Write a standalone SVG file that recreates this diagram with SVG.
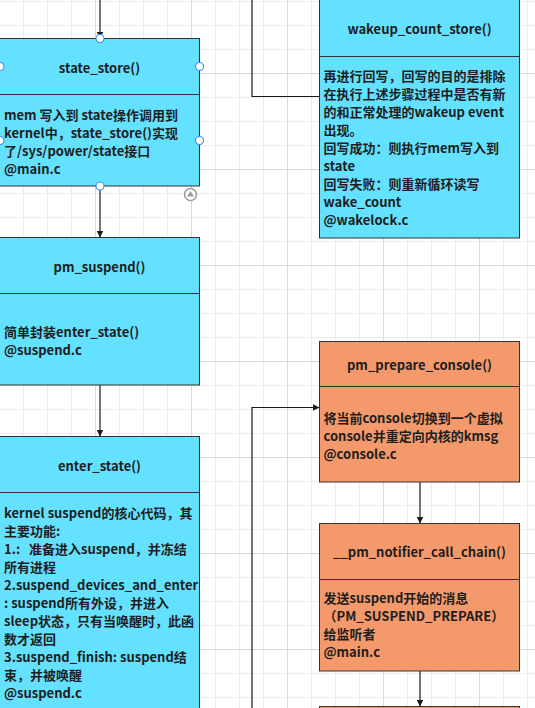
<svg xmlns="http://www.w3.org/2000/svg" width="535" height="708" viewBox="0 0 535 708">
<defs>
<pattern id="grid" patternUnits="userSpaceOnUse" x="-1" y="-23" width="96" height="96">
<rect x="0" y="0" width="96" height="96" fill="#ffffff"/>
<rect x="24" y="0" width="1" height="96" fill="#ececec"/>
<rect x="48" y="0" width="1" height="96" fill="#ececec"/>
<rect x="72" y="0" width="1" height="96" fill="#ececec"/>
<rect x="0" y="24" width="96" height="1" fill="#ececec"/>
<rect x="0" y="48" width="96" height="1" fill="#ececec"/>
<rect x="0" y="72" width="96" height="1" fill="#ececec"/>
<rect x="0" y="0" width="1" height="96" fill="#dadada"/>
<rect x="0" y="0" width="96" height="1" fill="#dadada"/>
</pattern>
<marker id="arr" markerUnits="userSpaceOnUse" markerWidth="8" markerHeight="8" refX="7" refY="3.5" orient="auto">
<path d="M0,0 L7,3.5 L0,7 z" fill="#1a1a1a"/>
</marker>
<style>
.box{stroke:#333333;stroke-width:1}
.cyan{fill:#64e1ff}
.orange{fill:#f4996c}
.div{stroke:#333333;stroke-width:1}
text{font-family:"Noto Sans CJK SC","Noto Sans",sans-serif;font-size:13px;font-weight:bold;fill:#1e1e1e}
.title{text-anchor:middle}
.conn{fill:none;stroke:#1a1a1a;stroke-width:1.2}
.handle{fill:#ffffff;stroke:#3d8ff0;stroke-width:1.2}
</style>
</defs>
<rect x="0" y="0" width="535" height="708" fill="url(#grid)"/>

<g id="connectors">
<path class="conn" d="M100,0 L100,38.5" marker-end="url(#arr)"/>
<path class="conn" d="M100,186 L100,237.5" marker-end="url(#arr)"/>
<path class="conn" d="M100,385 L100,436.5" marker-end="url(#arr)"/>
<path class="conn" d="M252,0 L252,96.5 L319.5,96.5"/>
<path class="conn" d="M252,708 L252,407.5 L319.5,407.5" marker-end="url(#arr)"/>
<path class="conn" d="M420,-10 L420,1.5" marker-end="url(#arr)"/>
<path class="conn" d="M420,482 L420,523.5" marker-end="url(#arr)"/>
<path class="conn" d="M420,671 L420,706.5" marker-end="url(#arr)"/>
</g>

<g id="state_store">
<rect class="box cyan" x="-0.5" y="38.5" width="200" height="147.5"/>
<line class="div" x1="-0.5" y1="94.5" x2="199.5" y2="94.5"/>
<text class="title" x="99.5" y="72.5">state_store()</text>
<text x="4" y="120">mem 写入到 state操作调用到</text>
<text x="4" y="138">kernel中，state_store()实现</text>
<text x="4" y="156">了/sys/power/state接口</text>
<text x="4" y="174">@main.c</text>
<circle class="handle" cx="100" cy="38.5" r="4"/>
<circle class="handle" cx="100" cy="186" r="4"/>
<circle class="handle" cx="0" cy="66.5" r="4"/>
<circle class="handle" cx="199.5" cy="66.5" r="4"/>
<circle class="handle" cx="0" cy="140.5" r="4"/>
<circle class="handle" cx="199.5" cy="140.5" r="4"/>
<circle cx="190.5" cy="194.5" r="6" fill="#ffffff" stroke="#9a9a9a" stroke-width="1.5"/>
<path d="M190.5,191 L187,196.5 L194,196.5 z" fill="#9a9a9a"/>
</g>

<g id="pm_suspend">
<rect class="box cyan" x="-0.5" y="237.5" width="200" height="147.5"/>
<line class="div" x1="-0.5" y1="293.5" x2="199.5" y2="293.5"/>
<text class="title" x="99.5" y="271.5">pm_suspend()</text>
<text x="4" y="336.5">简单封装enter_state()</text>
<text x="4" y="354.5">@suspend.c</text>
</g>

<g id="enter_state">
<rect class="box cyan" x="-0.5" y="436.5" width="200" height="300"/>
<line class="div" x1="-0.5" y1="492.5" x2="199.5" y2="492.5"/>
<text class="title" x="99.5" y="470.5">enter_state()</text>
<text x="4" y="518">kernel suspend的核心代码，其</text>
<text x="4" y="536">主要功能:</text>
<text x="4" y="554" style="white-space:pre">1.:   准备进入suspend，并冻结</text>
<text x="4" y="572">所有进程</text>
<text x="4" y="590">2.suspend_devices_and_enter</text>
<text x="4" y="608">: suspend所有外设，并进入</text>
<text x="4" y="626">sleep状态，只有当唤醒时，此函</text>
<text x="4" y="644">数才返回</text>
<text x="4" y="662">3.suspend_finish: suspend结</text>
<text x="4" y="680">束，并被唤醒</text>
<text x="4" y="698">@suspend.c</text>
</g>

<g id="wakeup_count_store">
<rect class="box cyan" x="319.5" y="-1" width="200" height="239"/>
<line class="div" x1="319.5" y1="56.5" x2="519.5" y2="56.5"/>
<text class="title" x="419.5" y="34">wakeup_count_store()</text>
<text x="323.5" y="81">再进行回写，回写的目的是排除</text>
<text x="323.5" y="99">在执行上述步骤过程中是否有新</text>
<text x="323.5" y="117">的和正常处理的wakeup event</text>
<text x="323.5" y="135">出现。</text>
<text x="323.5" y="153">回写成功：则执行mem写入到</text>
<text x="323.5" y="171">state</text>
<text x="323.5" y="189">回写失败：则重新循环读写</text>
<text x="323.5" y="207">wake_count</text>
<text x="323.5" y="225">@wakelock.c</text>
</g>

<g id="pm_prepare_console">
<rect class="box orange" x="319.5" y="341.5" width="200" height="140.5"/>
<line class="div" x1="319.5" y1="386.5" x2="519.5" y2="386.5"/>
<text class="title" x="419.5" y="370">pm_prepare_console()</text>
<text x="323.5" y="422.5">将当前console切换到一个虚拟</text>
<text x="323.5" y="440.5">console并重定向内核的kmsg</text>
<text x="323.5" y="458.5">@console.c</text>
</g>

<g id="pm_notifier_call_chain">
<rect class="box orange" x="319.5" y="523.5" width="200" height="147.5"/>
<line class="div" x1="319.5" y1="579.5" x2="519.5" y2="579.5"/>
<text class="title" x="419.5" y="557">__pm_notifier_call_chain()</text>
<text x="323.5" y="603">发送suspend开始的消息</text>
<text x="323.5" y="621">（PM_SUSPEND_PREPARE）</text>
<text x="323.5" y="639">给监听者</text>
<text x="323.5" y="657">@main.c</text>
</g>

<g id="next_node">
<rect class="box orange" x="319.5" y="706.5" width="200" height="60"/>
</g>
</svg>
